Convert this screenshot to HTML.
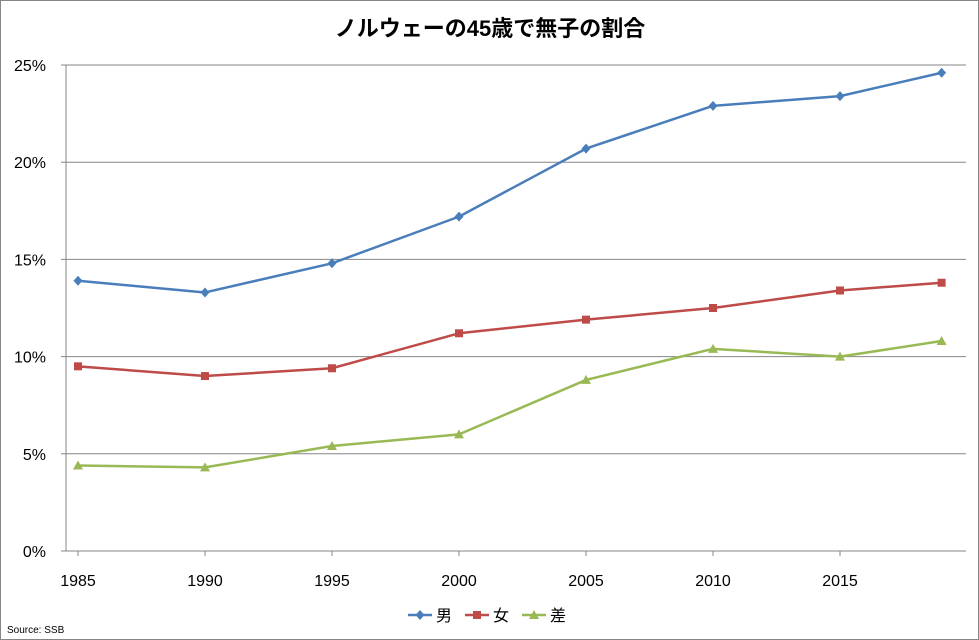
<!DOCTYPE html>
<html><head><meta charset="utf-8">
<style>
body{margin:0;background:#fff;}
svg{display:block;font-family:"Liberation Sans","Noto Sans CJK JP",sans-serif;}
</style></head>
<body>
<svg id="chart" width="979" height="640">
<rect x="0.5" y="0.5" width="978" height="639" fill="#fff" stroke="#868686"/>
<text x="490" y="36" text-anchor="middle" font-size="22" font-weight="bold" fill="#000">ノルウェーの45歳で無子の割合</text>
<g id="grid"></g>
<g id="series"></g>
<g>
 <g>
  <line x1="408" y1="615" x2="432" y2="615" stroke="#4a7ebb" stroke-width="2.5"/>
  <path d="M420 610 L424.5 615 L420 620 L415.5 615Z" fill="#4a7ebb"/>
  <text x="436" y="621" font-size="16">男</text>
 </g>
 <g>
  <line x1="465" y1="615" x2="489" y2="615" stroke="#be4b48" stroke-width="2.5"/>
  <rect x="473" y="611" width="8" height="8" fill="#be4b48"/>
  <text x="493" y="621" font-size="16">女</text>
 </g>
 <g>
  <line x1="522" y1="615" x2="546" y2="615" stroke="#98b954" stroke-width="2.5"/>
  <path d="M534 610 L539 619 L529 619Z" fill="#98b954"/>
  <text x="550" y="621" font-size="16">差</text>
 </g>
</g>
<text x="7" y="633" font-size="10" fill="#000">Source: SSB</text>
<script>
const years=[1985,1990,1995,2000,2005,2010,2015,2019];
const tickYears=[1985,1990,1995,2000,2005,2010,2015];
const yTicks=[0,5,10,15,20,25];
const male=[13.9,13.3,14.8,17.2,20.7,22.9,23.4,24.6];
const female=[9.5,9.0,9.4,11.2,11.9,12.5,13.4,13.8];
const diff=[4.4,4.3,5.4,6.0,8.8,10.4,10.0,10.8];
const NS="http://www.w3.org/2000/svg";
function xs(yr){return 78+(yr-1985)*25.4;}
function ys(v){return 551-v*19.44;}
const grid=document.getElementById('grid');
const series=document.getElementById('series');
function mk(tag,attrs,parent){const e=document.createElementNS(NS,tag);for(const k in attrs)e.setAttribute(k,attrs[k]);parent.appendChild(e);return e;}
yTicks.forEach(t=>{
 const y=ys(t);
 const l=mk('line',{x1:66,x2:966,y1:y,y2:y,stroke:t===0?'#868686':'#868686','stroke-width':1},grid);
 
 
 const tk=mk('line',{x1:61,x2:66,y1:y,y2:y,stroke:'#868686'},grid);
 
 
 const tx=mk('text',{x:46,y:y+6,'text-anchor':'end','font-size':16},grid);
 tx.textContent=t+'%';
 
 
});
const ax=mk('line',{x1:66,x2:66,y1:ys(25),y2:ys(0),stroke:'#868686'},grid);


tickYears.forEach(yr=>{
 const x=xs(yr);
 const tk=mk('line',{x1:x,x2:x,y1:551,y2:556,stroke:'#868686'},grid);
 
 
 const tx=mk('text',{x:x,y:586,'text-anchor':'middle','font-size':16},grid);
 tx.textContent=yr;
 
 
});
function draw(vals,color,shape,name){
 const g=mk('g',{},series);
 
 
 const pts=vals.map((v,i)=>xs(years[i])+','+ys(v)).join(' ');
 const pl=mk('polyline',{points:pts,fill:'none',stroke:color,'stroke-width':2.5,'stroke-linejoin':'round'},g);
 
 
 vals.forEach((v,i)=>{
  const x=xs(years[i]),y=ys(v);let m;
  if(shape==='d')m=mk('path',{d:`M${x} ${y-5}L${x+4.5} ${y}L${x} ${y+5}L${x-4.5} ${y}Z`,fill:color},g);
  else if(shape==='s')m=mk('rect',{x:x-4,y:y-4,width:8,height:8,fill:color},g);
  else m=mk('path',{d:`M${x} ${y-5}L${x+5} ${y+4}L${x-5} ${y+4}Z`,fill:color},g);
  
  
 });
}
draw(male,'#4a7ebb','d','male');
draw(female,'#be4b48','s','female');
draw(diff,'#98b954','t','diff');
</script>
</svg>
</body></html>
